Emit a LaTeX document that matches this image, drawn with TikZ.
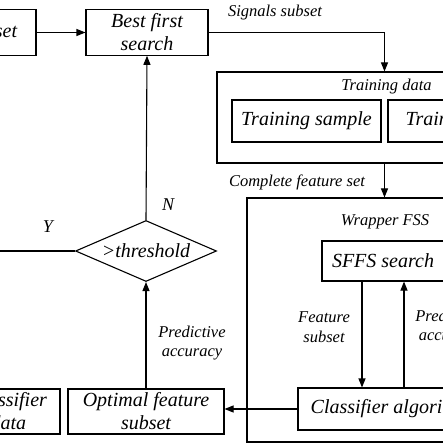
\documentclass[tikz,border=0pt]{standalone}
\usepackage{fontspec}
\setmainfont{Liberation Serif}
\usetikzlibrary{arrows.meta,shapes.geometric}
\begin{document}
\begin{tikzpicture}[x=1pt,y=-1pt,
 box/.style={draw, line width=1.1pt, inner sep=0pt, align=center, font=\itshape\fontsize{20}{23}\selectfont},
 lbl/.style={font=\itshape\fontsize{16.5}{19.5}\selectfont, align=center, inner sep=0pt},
 yn/.style={font=\itshape\fontsize{18}{20}\selectfont, inner sep=0pt},
 arr/.style={line width=1.1pt, -{Triangle[length=9pt,width=7pt]}},
 ln/.style={line width=1.1pt}]
\useasboundingbox (0,0) rectangle (443,443);
\clip (0,0) rectangle (443,443);
% boxes
\node[box, minimum width=116pt, minimum height=45.5pt] (sigset) at (-22,32.5) {Signal set};
\node[box, minimum width=122pt, minimum height=45.5pt] (bfs) at (147,32.5) {Best first\\search};
\node[box, minimum width=335pt, minimum height=91pt] (train) at (384.5,117.5) {};
\node[box, minimum width=149pt, minimum height=42pt] (tsamp) at (306.5,121) {Training sample};
\node[box, minimum width=149pt, minimum height=42pt] (tlab) at (462.5,121) {Training label};
\node[box, minimum width=276pt, minimum height=244pt] (wrap) at (385,320) {};
\node[box, minimum width=122pt, minimum height=40pt] (sffs) at (383,261) {SFFS search};
\node[box, minimum width=187pt, minimum height=42pt] (clf) at (391.5,409) {Classifier algorithm};
\node[box, minimum width=156pt, minimum height=45pt] (opt) at (146,411.5) {Optimal feature\\subset};
\node[box, minimum width=136pt, minimum height=45pt] (test) at (-8,411.5) {Test classifier\\test data};
\node[box, shape=diamond, aspect=2.3, minimum width=141pt, minimum height=61pt] (dia) at (146,251) {>threshold};
\coordinate (yend) at (-5,251);
% connectors
\draw[arr] (sigset.east) -- (bfs.west);
\draw[arr] (bfs.east) -| (train.north);
\draw[arr] (train.south) -- (train.south |- wrap.north);
\draw[arr] ([xshift=-21pt]sffs.south) -- ([xshift=-21pt]sffs.south |- clf.north);
\draw[arr] ([xshift=21pt]sffs.south |- clf.north) -- ([xshift=21pt]sffs.south);
\draw[arr] (clf.west) -- (clf.west -| opt.east);
\draw[arr] (opt.north) -- (dia.south);
\draw[arr] (dia.north) -- (bfs.south);
\draw[ln] (dia.west) -- (yend);
% labels
\node[lbl] (l1) at (275,12.5) {Signals subset};
\node[lbl] (l2) at (386.5,87) {Training data};
\node[lbl] (l3) at (297,182) {Complete feature set};
\node[lbl] (l4) at (385,222) {Wrapper FSS};
\node[lbl] (l5) at (324,327) {Feature\\subset};
\node[lbl] (l6) at (449,327) {Predictive\\accuracy};
\node[lbl] (l7) at (192,343) {Predictive\\accuracy};
\node[yn] (l8) at (168,205) {N};
\node[yn] (l9) at (48,227) {Y};
\end{tikzpicture}
\end{document}
